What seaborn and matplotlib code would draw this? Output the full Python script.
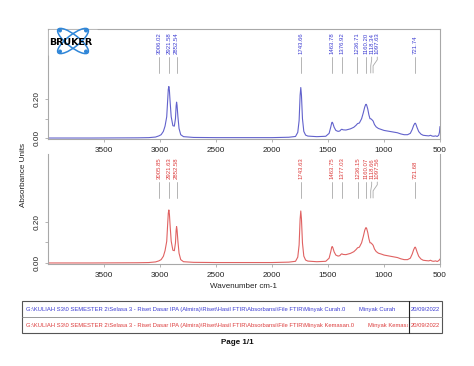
import numpy as np
import pandas as pd
import matplotlib
matplotlib.use("Agg")
import matplotlib.pyplot as plt
import matplotlib.transforms as mtransforms
from matplotlib.patches import Ellipse, Rectangle, Circle
import seaborn as sns

# spectra (wavenumber cm-1 / absorbance)
wavenumber = [4000, 3600, 3200, 3100, 3040, 3010, 2990, 2970, 2955, 2940, 2932, 2926, 2921, 2916, 2910,
              2900, 2885, 2872, 2862, 2856, 2852, 2848, 2840, 2830, 2815, 2790, 2700, 2500, 2200, 2000,
              1850, 1790, 1770, 1758, 1749, 1743, 1737, 1728, 1716, 1700, 1680, 1600, 1520, 1490, 1475,
              1467, 1463, 1457, 1445, 1430, 1410, 1395, 1385, 1377, 1365, 1340, 1300, 1270, 1250, 1236,
              1220, 1200, 1185, 1172, 1164, 1160, 1155, 1145, 1135, 1125, 1118, 1108, 1097, 1085, 1070,
              1050, 1020, 1000, 960, 920, 880, 850, 820, 790, 765, 748, 735, 725, 721, 716, 705,
              690, 670, 650, 620, 600, 585, 570, 555, 540, 525, 512, 505, 500]

abs_curah = [0.001, 0.001, 0.002, 0.003, 0.006, 0.012, 0.018, 0.035, 0.062, 0.11, 0.19, 0.25, 0.265, 0.245, 0.19,
             0.11, 0.064, 0.062, 0.1, 0.165, 0.185, 0.17, 0.11, 0.05, 0.018, 0.008, 0.004, 0.003, 0.003, 0.003,
             0.005, 0.009, 0.03, 0.09, 0.22, 0.26, 0.22, 0.1, 0.035, 0.016, 0.011, 0.008, 0.010, 0.025, 0.058,
             0.078, 0.082, 0.077, 0.056, 0.04, 0.035, 0.037, 0.043, 0.046, 0.043, 0.042, 0.048, 0.056, 0.066, 0.075,
             0.078, 0.10, 0.13, 0.16, 0.172, 0.174, 0.17, 0.15, 0.12, 0.10, 0.10, 0.095, 0.088, 0.07, 0.058,
             0.05, 0.044, 0.040, 0.036, 0.032, 0.028, 0.022, 0.018, 0.018, 0.025, 0.045, 0.066, 0.076, 0.077, 0.073, 0.055,
             0.034, 0.021, 0.015, 0.013, 0.012, 0.015, 0.011, 0.010, 0.012, 0.009, 0.015, 0.030, 0.060]

abs_kemasan = [0.001, 0.001, 0.002, 0.003, 0.006, 0.011, 0.017, 0.033, 0.060, 0.105, 0.183, 0.24, 0.256, 0.236, 0.183,
               0.106, 0.062, 0.060, 0.097, 0.158, 0.176, 0.162, 0.105, 0.048, 0.017, 0.007, 0.004, 0.003, 0.003, 0.003,
               0.005, 0.009, 0.029, 0.087, 0.212, 0.251, 0.212, 0.097, 0.034, 0.015, 0.010, 0.007, 0.009, 0.024, 0.056,
               0.076, 0.080, 0.075, 0.054, 0.039, 0.034, 0.036, 0.042, 0.045, 0.042, 0.041, 0.047, 0.055, 0.065, 0.074,
               0.077, 0.098, 0.128, 0.158, 0.169, 0.171, 0.167, 0.147, 0.118, 0.098, 0.098, 0.093, 0.086, 0.068, 0.056,
               0.048, 0.043, 0.039, 0.035, 0.031, 0.027, 0.021, 0.017, 0.017, 0.024, 0.044, 0.065, 0.076, 0.077, 0.072, 0.054,
               0.033, 0.020, 0.014, 0.012, 0.011, 0.014, 0.010, 0.009, 0.011, 0.008, 0.012, 0.016, 0.020]

peaks_curah = [3006.02, 2921.58, 2852.54, 1743.66, 1463.78, 1376.92, 1236.71, 1160.20, 1118.34, 1097.63, 721.74]
peaks_kemasan = [3005.85, 2921.63, 2852.58, 1743.63, 1463.75, 1377.03, 1236.15, 1160.07, 1118.66, 1097.56, 721.68]

file_paths = [r"G:\KULIAH S3\0 SEMESTER 2\Selasa 3 - Riset Dasar IPA (Almira)\Riset\Hasil FTIR\Absorbansi\File FTIR\Minyak Curah.0",
              r"G:\KULIAH S3\0 SEMESTER 2\Selasa 3 - Riset Dasar IPA (Almira)\Riset\Hasil FTIR\Absorbansi\File FTIR\Minyak Kemasan.0"]
sample_names = ["Minyak Curah", "Minyak Kemasan"]
dates = ["20/09/2022", "20/09/2022"]

sns.set_style("ticks")
plt.rcParams['font.family'] = ['Liberation Sans', 'DejaVu Sans']

BLUE_LINE, BLUE_TXT = '#6262cc', '#3c3cd2'
RED_LINE, RED_TXT = '#e06262', '#dc3c3c'
GREY = '#a8a8a8'

fig = plt.figure(figsize=(4.74, 3.66), dpi=100)
ax1 = fig.add_axes([48/474, 1-139/366, 392/474, 110/366])
ax2 = fig.add_axes([48/474, 1-264/366, 392/474, 110/366])


def spread(xs, gap=50):
    # push crowded labels apart (like OPUS does)
    out = []
    for x in xs:
        if out and out[-1] - x < gap:
            x = out[-1] - gap
        out.append(x)
    return out


def draw_panel(ax, absorb, peaks, line_c, txt_c, ylim, top_spine):
    df = pd.DataFrame({"wn": wavenumber, "a": absorb})
    sns.lineplot(data=df, x="wn", y="a", ax=ax, color=line_c, lw=0.8, sort=False, estimator=None)
    ax.set_xlim(4000, 500)
    ax.set_ylim(*ylim)
    ax.set_xlabel("")
    ax.set_ylabel("")
    ax.set_xticks([3500, 3000, 2500, 2000, 1500, 1000, 500])
    ax.set_yticks([0.0, 0.1, 0.2])
    ax.set_yticklabels(["0.00", "", "0.20"], rotation=90, va='center')
    ax.tick_params(labelsize=5.9, length=2.5, width=0.6, color=GREY, labelcolor='#222222', pad=3)
    for s in ax.spines.values():
        s.set_color(GREY)
        s.set_linewidth(0.8)
    ax.spines['top'].set_visible(top_spine)
    trans = mtransforms.blended_transform_factory(ax.transData, ax.transAxes)
    for p, lx in zip(peaks, spread(peaks)):
        if abs(lx - p) < 1:
            ax.plot([p, p], [0.6, 0.745], transform=trans, color=GREY, lw=0.6)
        else:
            ax.plot([p, p, lx, lx], [0.6, 0.665, 0.72, 0.745], transform=trans, color=GREY, lw=0.6)
        ax.text(lx, 0.77, f"{p:.2f}", transform=trans, rotation=90, ha='center', va='bottom',
                fontsize=4.3, color=txt_c)


draw_panel(ax1, abs_curah, peaks_curah, BLUE_LINE, BLUE_TXT, (-0.004, 0.56), True)
draw_panel(ax2, abs_kemasan, peaks_kemasan, RED_LINE, RED_TXT, (-0.004, 0.525), False)

# overlay in pixel coordinates for the page decorations
ov = fig.add_axes([0, 0, 1, 1], zorder=5)
ov.set_xlim(0, 474)
ov.set_ylim(366, 0)
ov.axis('off')

ov.text(24, 175, "Absorbance Units", rotation=90, ha='center', va='center', fontsize=5.9, color='#222222')
ov.text(244, 287, "Wavenumber cm-1", ha='center', va='center', fontsize=5.8, color='#222222')
ov.text(237, 342, "Page 1/1", ha='center', va='center', fontsize=5.8, fontweight='bold', color='#111111')

# Bruker logo
ov.add_patch(Rectangle((49, 30), 48, 25, color='white', zorder=1))
for ang in (38, -38):
    ov.add_patch(Ellipse((73, 41), 38, 12, angle=ang, fill=False, ec='#2f86d8', lw=1.1, zorder=2))
for cx, cy in [(60, 30.5), (86, 30.5), (60, 51.5), (86, 51.5)]:
    ov.add_patch(Circle((cx, cy), 1.3, color='#2f86d8', zorder=3))
ov.text(71, 42.5, "BRUKER", ha='center', va='center', fontsize=6.8, fontweight='bold',
        family='DejaVu Sans', color='black', zorder=4)

# file table
ov.add_patch(Rectangle((22, 301), 420, 32, fill=False, ec='#555555', lw=0.8))
ov.plot([22, 442], [317, 317], color='#888888', lw=0.6)
ov.plot([409, 409], [301, 333], color='#222222', lw=0.8)
row_y = [309.5, 325.5]
colors = [BLUE_TXT, RED_TXT]
name_x = [359, 368]
cell_box = mtransforms.TransformedBbox(mtransforms.Bbox([[22, 301], [408.5, 333]]), ov.transData)
for i in range(2):
    ov.text(26, row_y[i], file_paths[i], ha='left', va='center', fontsize=4.25, color=colors[i])
    t = ov.text(name_x[i], row_y[i], sample_names[i], ha='left', va='center', fontsize=4.25,
                color=colors[i], clip_on=True)
    t.set_clip_box(cell_box)
    ov.text(411, row_y[i], dates[i], ha='left', va='center', fontsize=4.25, color=colors[i])

fig.savefig("out.png", dpi=100)
